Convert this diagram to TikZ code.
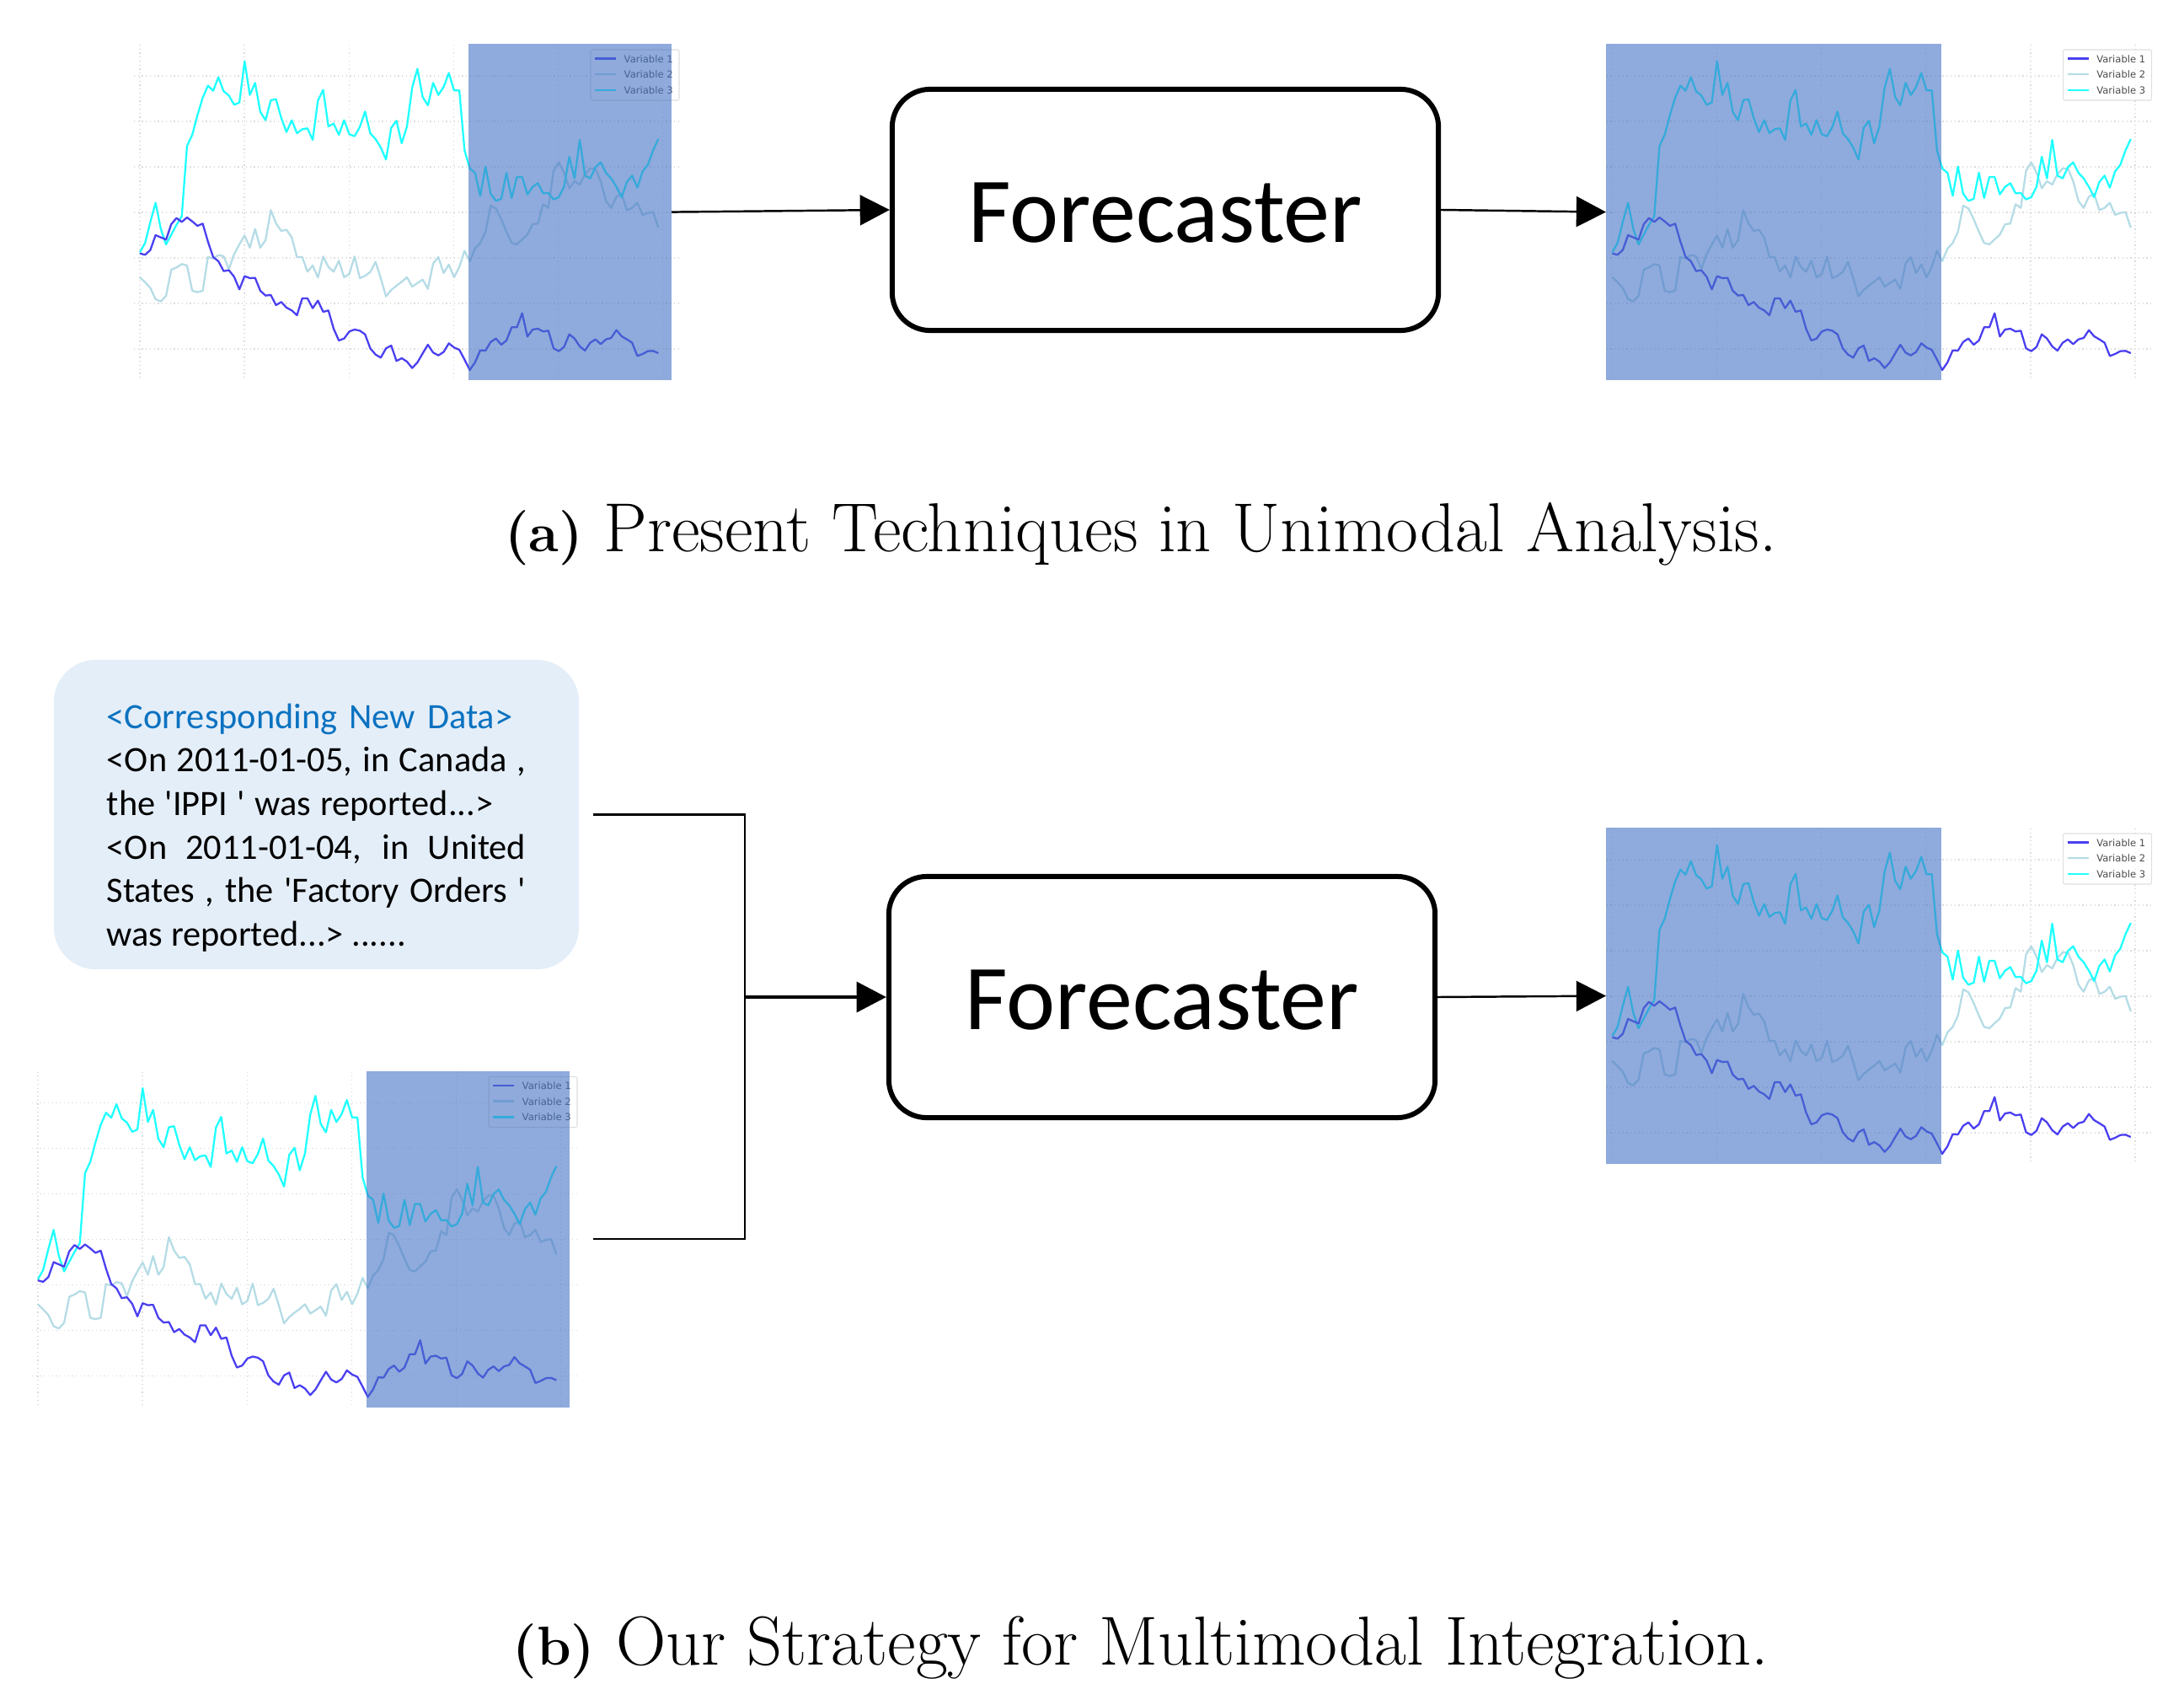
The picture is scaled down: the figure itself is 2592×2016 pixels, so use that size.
\documentclass[tikz,border=0pt]{standalone}
\usepackage{fontspec}
\usepackage{xcolor}
\usetikzlibrary{arrows.meta,positioning}
\newfontfamily\carlitofont{Carlito}
\newfontfamily\legendfont{DejaVu Sans}
\tikzset{>={Triangle[length=10pt,width=10.2pt]}}

\definecolor{varone}{HTML}{4A3FF0}
\definecolor{vartwo}{HTML}{B5DCE6}
\definecolor{varthree}{HTML}{1FFFFF}
\definecolor{bandblue}{HTML}{4472C4}
\definecolor{newsfill}{HTML}{E4EEF9}
\definecolor{newshead}{HTML}{0B72C0}

% the three series, one value per time step
\def\seriesa{{812,817,800,747,755,763,708,686,700,684,698,714,706,770,825,840,875,872,895,940,893,900,899,945,962,960,996,985,1005,1015,1032,972,972,1007,980,1020,1015,1080,1122,1115,1090,1083,1087,1100,1150,1172,1183,1150,1140,1195,1185,1197,1220,1200,1168,1137,1165,1175,1163,1132,1147,1155,1190,1227,1200,1157,1158,1127,1115,1137,1122,1075,1075,1025,1108,1083,1080,1090,1087,1150,1160,1145,1100,1115,1143,1158,1130,1118,1135,1118,1113,1085,1107,1118,1130,1177,1170,1160,1159,1167}}
\def\seriesb{{897,915,935,975,983,963,870,862,850,855,945,950,945,825,830,818,822,868,815,780,748,792,725,792,765,658,705,732,728,755,825,825,877,855,898,823,860,877,838,897,885,823,900,892,878,842,900,965,942,927,913,897,930,918,905,938,848,825,882,852,897,860,803,840,795,775,735,642,652,690,735,775,780,762,745,708,706,637,650,518,488,525,580,555,567,530,510,510,555,625,650,610,600,658,650,632,675,668,665,720}}
\def\seriesc{{808,775,700,632,725,780,745,710,680,430,390,320,258,215,233,185,235,250,283,275,128,248,205,308,338,267,263,330,380,338,384,370,367,408,268,230,360,350,390,338,388,395,362,307,385,405,435,478,365,340,420,360,222,155,255,285,205,248,220,170,232,232,445,510,525,607,503,600,625,618,525,615,540,540,602,575,562,598,597,620,612,575,468,545,408,535,545,505,488,525,545,575,612,558,535,578,520,497,445,405}}

% one line of the news text, spread to a given width
\newcommand{\newsline}[2][4.97cm]{\makebox[#1][s]{#2}}

% #1 name, #2 shift, #3 and #4 left and right edge of the shaded band
\newcommand{\tschart}[4]{
\begin{scope}[shift={#2}]
  \foreach \gx in {0,...,5}
    \draw[chartgrid] ({166+124.1*\gx},53) -- ({166+124.1*\gx},450);
  \foreach \gy in {0,...,6}
    \draw[chartgrid] (159,{90+54*\gy}) -- (808,{90+54*\gy});

  \draw[serie, vartwo] plot[samples at={0,...,99}] ({166+6.215*\x},{30+\seriesb[int(\x)]/3});
  \draw[serie, varthree] plot[samples at={0,...,99}] ({166+6.215*\x},{30+\seriesc[int(\x)]/3});
  \draw[serie, varone] plot[samples at={0,...,99}] ({166+6.215*\x},{30+\seriesa[int(\x)]/3});

  \draw[legendbox] (701,59) rectangle (806,119);
  \draw[serie, varone] (706,69.5) -- (731,69.5);
  \draw[serie, vartwo] (706,88) -- (731,88);
  \draw[serie, varthree] (706,107) -- (731,107);
  \node[legendtext] (#1one) at (740,70) {Variable 1};
  \node[legendtext] (#1two) at (740,88.5) {Variable 2};
  \node[legendtext] (#1three) at (740,107) {Variable 3};

  \node[band, minimum width={(#4-#3)*0.01cm}] (#1band) at ({(#3+#4)/2},251.6) {};
\end{scope}
}

\begin{document}
\begin{tikzpicture}[x=0.01cm, y=-0.01cm,
                    chartgrid/.style={gray!28, line width=.35pt, densely dotted},
                    serie/.style={line width=.65pt, line join=round},
                    legendbox/.style={draw=gray!25, line width=.3pt, fill=white, fill opacity=.8, rounded corners=.6pt},
                    legendtext/.style={anchor=west, inner sep=0pt, text=black!70, font=\legendfont\fontsize{3.3}{4}\selectfont},
                    band/.style={fill=bandblue, fill opacity=.6, minimum height=3.987cm, inner sep=0pt, outer sep=0pt},
                    forecaster/.style={draw, line width=1.7pt, rounded corners=.45cm, minimum width=6.48cm, minimum height=2.86cm, text height=.76cm, text depth=0pt, font=\carlitofont\fontsize{31.3}{36}\selectfont},
                    newsbox/.style={fill=newsfill, rounded corners=.5cm, minimum width=6.23cm, minimum height=3.67cm, inner sep=0pt},
                    newstext/.style={inner sep=0pt, align=left, font=\carlitofont\fontsize{12.05}{14.68}\selectfont},
                    caption/.style={anchor=base, inner sep=0pt, font=\fontsize{23.4}{26}\selectfont},
                    link/.style={line width=.7pt, black},
                   ]

\useasboundingbox (0,0) rectangle (2592,2016);

% upper row
\tschart{a}{(0,0)}{555.5}{797}
\tschart{b}{(1747.5,0)}{158.5}{556.5}
\node[forecaster] (foreup) at (1383,249) {Forecaster};
\draw[link, ->] (aband.east) -- (foreup.west);
\draw[link, ->] (foreup.east) -- (bband.west);
\node[caption] (capup) at (1354,655) {\textbf{\fontsize{18.5}{26}\selectfont (a)} Present Techniques in Unimodal Analysis.};

% lower row
\node[newsbox] (newsbg) at (375.5,966.5) {};
\node[newstext] (news) at (375.5,982) {\newsline[4.81cm]{\color{newshead}<Corresponding New Data>}\\
\newsline{<On 2011-01-05, in Canada ,}\\
\newsline[4.58cm]{the 'IPPI ' was reported...>}\\
\newsline{<On 2011-01-04, in United}\\
\newsline{States , the 'Factory Orders '}\\
was reported...> ......};
\tschart{c}{(-121,1218.5)}{555.5}{797}
\tschart{d}{(1747.5,930)}{158.5}{556.5}
\node[forecaster] (foredown) at (1379,1183) {Forecaster};

\coordinate (newsend) at ([xshift=.16cm]newsbg.east);
\coordinate (chartend) at ([xshift=.275cm]cband.east);
\coordinate (joint) at (884,1183);
\draw[link] (newsend) -| (joint) |- (chartend);
\draw[link, line width=1pt, ->] (joint) -- (foredown.west);
\draw[link, ->] (foredown.east) -- (dband.west);
\node[caption] (capdown) at (1354,1975) {\textbf{\fontsize{18.5}{26}\selectfont (b)} Our Strategy for Multimodal Integration.};

\end{tikzpicture}
\end{document}
